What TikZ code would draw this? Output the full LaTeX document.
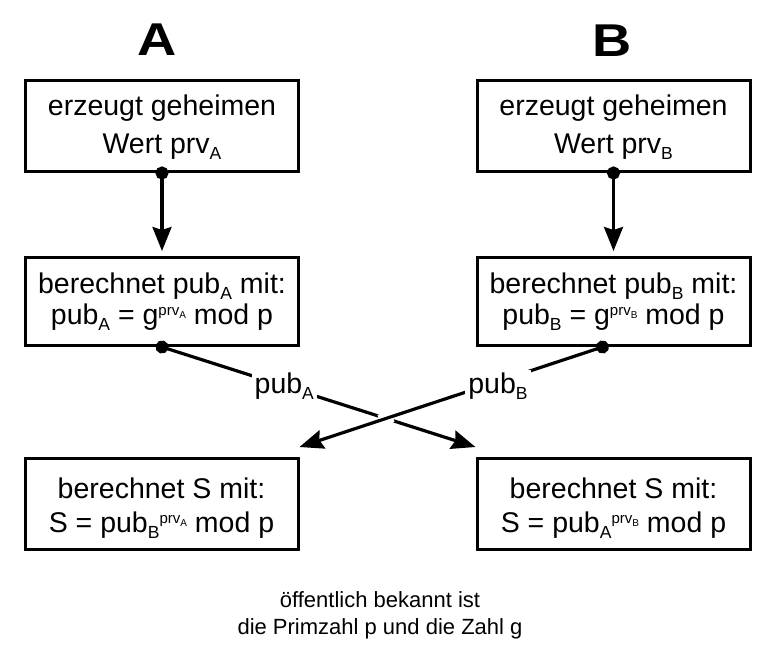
\documentclass[tikz,border=0pt]{standalone}
\usepackage{fontspec}
\setmainfont{Liberation Sans}
\usetikzlibrary{arrows.meta,calc,intersections}

\newcommand\sbs[1]{\raisebox{-6pt}{\fontsize{17.5}{17.5}\selectfont #1}}
\newcommand\sps[2]{\raisebox{8.5pt}{\fontsize{15}{15}\selectfont #1\raisebox{-2.5pt}{\fontsize{10}{10}\selectfont #2}}}

\begin{document}
\begin{tikzpicture}[x=1pt,y=-1pt,
  box/.style={draw, line width=3pt, minimum width=273pt, inner sep=0pt, align=center},
  tA/.style={font=\fontsize{28.5}{38}\selectfont},
  tB/.style={font=\fontsize{28.5}{31}\selectfont},
  tC/.style={font=\fontsize{28.5}{34}\selectfont},
  hdr/.style={font=\fontsize{46}{46}\selectfont\bfseries, inner sep=0pt},
  conn/.style={line width=3.2pt, {Circle[length=13pt]}-{Stealth[length=24pt,width=19pt,inset=3pt]}, shorten <=-6.5pt},
  lbl/.style={fill=white, inner sep=3pt, font=\fontsize{28.5}{30}\selectfont},
  note/.style={font=\fontsize{22}{27}\selectfont, align=center}
]
\useasboundingbox (0,0) rectangle (768,647);

\node[hdr] (ha) at (157,40) {\scalebox{1.18}[1]{A}};
\node[hdr] (hb) at (612,41) {\scalebox{1.18}[1]{B}};

\node[box, tA, minimum height=91pt] (a1) at (162,126) {\rule{0pt}{24pt}erzeugt geheimen\\Wert prv\sbs{A}};
\node[box, tA, minimum height=91pt] (b1) at (613.5,126) {\rule{0pt}{24pt}erzeugt geheimen\\Wert prv\sbs{B}};

\node[box, tB, minimum height=88pt] (a2) at (162,301.5) {berechnet pub\sbs{A} mit:\\pub\sbs{A} = g\sps{prv}{A} mod p};
\node[box, tB, minimum height=88pt] (b2) at (613.5,301.5) {berechnet pub\sbs{B} mit:\\pub\sbs{B} = g\sps{prv}{B} mod p};

\node[box, tC, minimum height=91pt] (sl) at (161.5,504) {\rule{0pt}{28pt}berechnet S mit:\\S = pub\sbs{B}\sps{prv}{A} mod p};
\node[box, tC, minimum height=91pt] (sr) at (613.5,504) {\rule{0pt}{28pt}berechnet S mit:\\S = pub\sbs{A}\sps{prv}{B} mod p};

\node[note] (nt) at (380,615) {öffentlich bekannt ist\\die Primzahl p und die Zahl g};

\draw[conn, shorten >=5pt] (a1.south) -- (a2.north);
\draw[conn, shorten >=5pt] (b1.south) -- (b2.north);

\coordinate (ta) at ([yshift=10pt]sr.north west);
\coordinate (tb) at ([yshift=10pt]sl.north east);
\coordinate (sb) at ([xshift=-11pt]b2.south);
\path[name path=pa] (a2.south) -- (ta);
\path[name path=pb] (sb) -- (tb);
\path[name intersections={of=pa and pb, by=X}];

\draw[conn] (a2.south) -- node[lbl, pos=0.39] (la) {pub\sbs{A}} (ta);
\draw[white, line width=12pt] ($(X)!7pt!(sb)$) -- ($(X)!7pt!(tb)$);
\draw[conn] (sb) -- node[lbl, pos=0.345, yshift=-5pt] (lb) {pub\sbs{B}} (tb);
\end{tikzpicture}
\end{document}
